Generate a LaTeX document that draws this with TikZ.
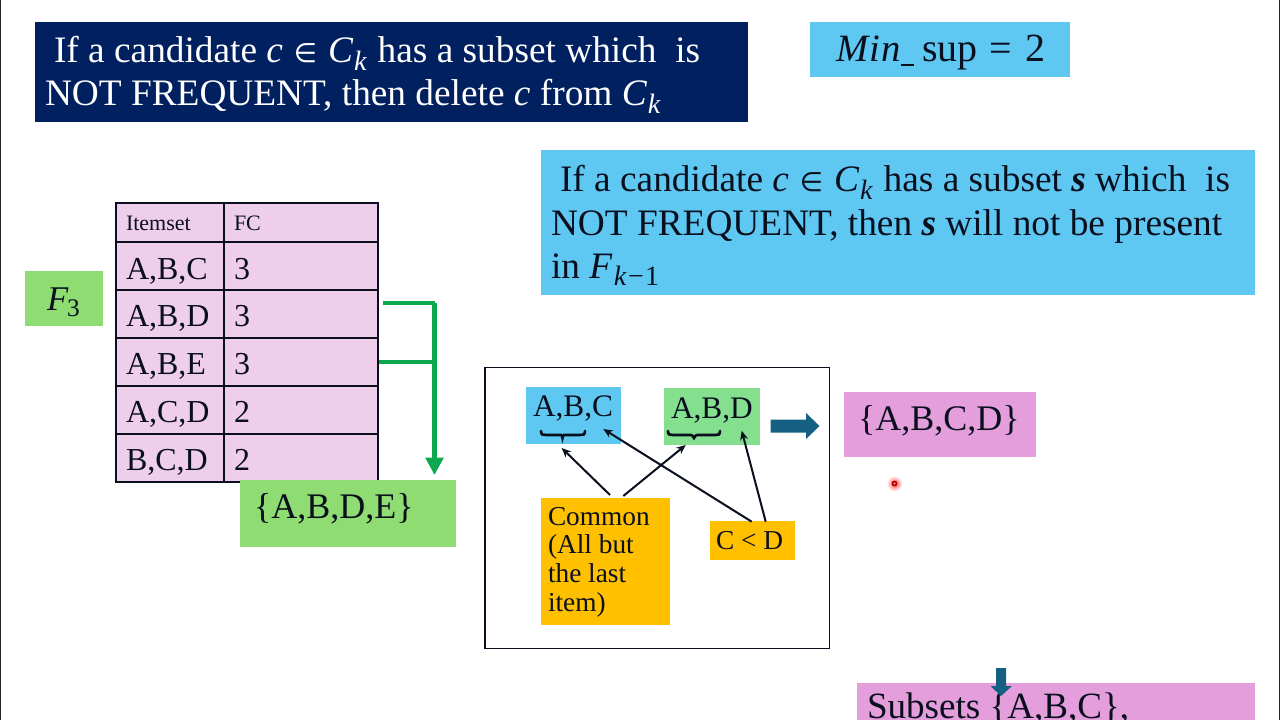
\documentclass[tikz,border=0pt]{standalone}
\usepackage{fontspec}
\setmainfont{Liberation Serif}
\newfontfamily\symf{DejaVu Sans}
\usetikzlibrary{arrows.meta}
\definecolor{navy}{HTML}{002060}
\definecolor{skyb}{HTML}{5EC8F2}
\definecolor{pinkt}{HTML}{EFCEEC}
\definecolor{pinkb}{HTML}{E49EDB}
\definecolor{greenb}{HTML}{8FDC72}
\definecolor{greenl}{HTML}{84E08F}
\definecolor{amber}{HTML}{FFC000}
\definecolor{arrowg}{HTML}{0BA84F}
\definecolor{teal}{HTML}{156082}
\definecolor{ink}{HTML}{0A0F1E}
\newcommand{\fs}[1]{\fontsize{#1}{#1}\selectfont}
\newcommand{\mi}[1]{\textit{#1}}
\newcommand{\inn}{\kern1.2pt{\symf\fontsize{20}{20}\selectfont ∈}\kern1.2pt}
\newcommand{\Ck}{\mi{C}\kern0.6pt\raisebox{-0.2em}{\fontsize{21}{21}\selectfont\mi{k}}\kern1pt}
\tikzset{
 x=0.75pt,y=-0.75pt,
 filled/.style={draw=none,inner sep=0,outer sep=0,anchor=north west},
 txt/.style={inner sep=0,outer sep=0,anchor=base west,text=ink},
 cell/.style={draw=ink,line width=0.8pt,fill=pinkt,inner sep=0,outer sep=0,anchor=north west},
 thinarrow/.style={draw=ink,line width=1.5pt,-{Stealth[length=7pt,width=6pt]}},
 greenline/.style={draw=arrowg,line width=2.6pt},
 tealshape/.style={fill=teal,draw=none},
 brace/.style={draw=ink,line width=2pt,line cap=round},
 edge line/.style={draw=black!85,line width=0.9pt}
}
\begin{document}
\begin{tikzpicture}
\useasboundingbox (0,0) rectangle (1280,720);
\clip (0,0) rectangle (1280,720);
\fill[white] (0,0) rectangle (1280,720);
\draw[edge line] (0.5,0) -- (0.5,720);
\draw[edge line] (1279.3,0) -- (1279.3,720);
% top left box
\node[filled,fill=navy,minimum width=534.75pt,minimum height=75pt] (rulebox) at (35,22) {};
\node[txt,text=white,font=\fs{28}] (rulea) at (54,63) {If a candidate \mi{c} \inn\ \Ck\ has a subset which\ \ is};
\node[txt,text=white,font=\fs{28}] (ruleb) at (45,106) {NOT FREQUENT, then delete \mi{c} from \Ck};
% min sup
\node[filled,fill=skyb,minimum width=195pt,minimum height=41pt] (minbox) at (810,22) {};
\node[txt,font=\fs{29}] (minsup) at (836,62) {\mi{M\kern1pt i\kern1pt n}\rule[-3pt]{10pt}{1.2pt}\kern6pt{\fs{30}sup\kern9pt =\kern10pt 2}};
% right box
\node[filled,fill=skyb,minimum width=535.5pt,minimum height=108.5pt] (sbox) at (541,150) {};
\node[txt,font=\fs{28}] (sa) at (560,192) {If a candidate \mi{c} \inn\ \Ck\ has a subset \textbf{\textit{s}} which\ \ is};
\node[txt,font=\fs{28}] (sb) at (551,235) {NOT FREQUENT, then \textbf{\textit{s}} will not be present};
\node[txt,font=\fs{28}] (sc) at (551,278) {in \mi{F}\kern1pt\raisebox{-0.2em}{\fs{21}\mi{k}\kern1pt −\kern1pt 1}};
% F3
\node[filled,fill=greenb,minimum width=58.5pt,minimum height=41pt] (fthree) at (25,271) {};
\node[txt,font=\fs{26}] (fthreet) at (47,310) {\mi{F}\kern-1pt\raisebox{-0.2em}{\fs{19}3}};
% table
\foreach \r/\y/\h in {h/203/39,1/242/48,2/290/48,3/338/48,4/386/48,5/434/48}{
  \node[cell,minimum width=81pt,minimum height=\h*0.75pt] (l\r) at (116,\y) {};
  \node[cell,minimum width=115.5pt,minimum height=\h*0.75pt] (r\r) at (224,\y) {};
}
\foreach \r/\y/\a/\b in {1/279/{A,B,C}/3,2/326/{A,B,D}/3,3/374/{A,B,E}/3,4/422/{A,C,D}/2,5/470/{B,C,D}/2}{
  \node[txt,font=\fs{24}] (tl\r) at (126,\y) {\a};
  \node[txt,font=\fs{24}] (tr\r) at (234,\y) {\b};
}
\node[txt,font=\fs{16.5}] (th) at (126,231) {Itemset};
\node[txt,font=\fs{16.5}] (tf) at (234,231) {FC};
% green result box
\node[filled,fill=greenb,minimum width=162pt,minimum height=50pt] (abde) at (240,480) {};
\node[txt,font=\fs{27}] (abdet) at (254,518) {\{A,B,D,E\}};
% green connectors
\coordinate (ga) at (383,303);
\coordinate (gb) at (379,362);
\coordinate (gc) at (434.5,303);
\coordinate (gd) at (434.5,362);
\coordinate (ge) at (434.5,475);
\draw[greenline] (ga) -- (gc);
\draw[greenline] (gb) -- (gd);
\draw[draw=arrowg,line width=4pt,-{Triangle[length=13pt,width=13pt]}] (gc) -- (ge);
% framed panel
\node[filled,draw=ink,line width=0.8pt,minimum width=258.5pt,minimum height=210.5pt] (panel) at (485,367.5) {};
\node[filled,fill=skyb,minimum width=71pt,minimum height=42.5pt] (abc) at (526,387) {};
\node[txt,font=\fs{23.5}] (abct) at (533,416) {A,B,C};
\node[filled,fill=greenl,minimum width=72pt,minimum height=42.5pt] (abd) at (664,388) {};
\node[txt,font=\fs{23.5}] (abdt) at (671,418) {A,B,D};
\draw[brace] (541,431) .. controls (541,435) and (543,435) .. (546,435) -- (561,435) .. controls (562,435) and (562,436) .. (562.5,438) .. controls (563,436) and (563,435) .. (564,435) -- (580,435) .. controls (583,435) and (585,435) .. (585,431);
\draw[brace] (668,431) .. controls (668,435) and (670,435) .. (673,435) -- (691,435) .. controls (692,435) and (693,436) .. (694,438) .. controls (695,436) and (696,435) .. (697,435) -- (715,435) .. controls (718,435) and (720,435) .. (720,431);
\node[filled,fill=amber,minimum width=97pt,minimum height=95.5pt] (common) at (541,498) {};
\node[txt,font=\fontsize{20.5}{21.6}\selectfont,align=left,anchor=north west] (commont) at (548,507) {Common\\(All but\\the last\\item)};
\node[filled,fill=amber,minimum width=64pt,minimum height=29.5pt] (clt) at (710,521) {};
\node[txt,font=\fs{20.5}] (cltt) at (716,549) {C < D};
\coordinate (ca) at (610,495);
\coordinate (cb) at (623.3,496);
\coordinate (cc) at (751.7,521.7);
\coordinate (cd) at (765.7,521.7);
\coordinate (abcl) at (561.7,448);
\coordinate (abcr) at (603.3,429);
\coordinate (abdl) at (685.7,445);
\coordinate (abdr) at (741.7,430.7);
\draw[thinarrow] (ca) -- (abcl);
\draw[thinarrow] (cb) -- (abdl);
\draw[thinarrow] (cc) -- (abcr);
\draw[thinarrow] (cd) -- (abdr);
\fill[tealshape] (770.5,419.5) -- (806,419.5) -- (806,413) -- (819.5,426) -- (806,439) -- (806,432.5) -- (770.5,432.5) -- cycle;
% ABCD box
\node[filled,fill=pinkb,minimum width=144pt,minimum height=49pt] (abcd) at (844,392) {};
\node[txt,font=\fs{27}] (abcdt) at (858,430) {\{A,B,C,D\}};
% pointer dot
\shade[inner color=red!70!white,outer color=white] (894.5,483.5) circle[radius=8];
\fill[red!75!black] (894.5,483.5) circle[radius=3];
\fill[red!40!white] (894.5,483.5) circle[radius=1.2];
% subsets
\node[filled,fill=pinkb,minimum width=298.5pt,minimum height=40pt] (subsets) at (857,683) {};
\node[txt,font=\fs{27.8}] (subsetst) at (867,718) {Subsets \{A,B,C\},};
\fill[tealshape] (996,668) -- (1006,668) -- (1006,686) -- (1012,686) -- (1001,696) -- (990.5,686) -- (996,686) -- cycle;
\end{tikzpicture}
\end{document}
